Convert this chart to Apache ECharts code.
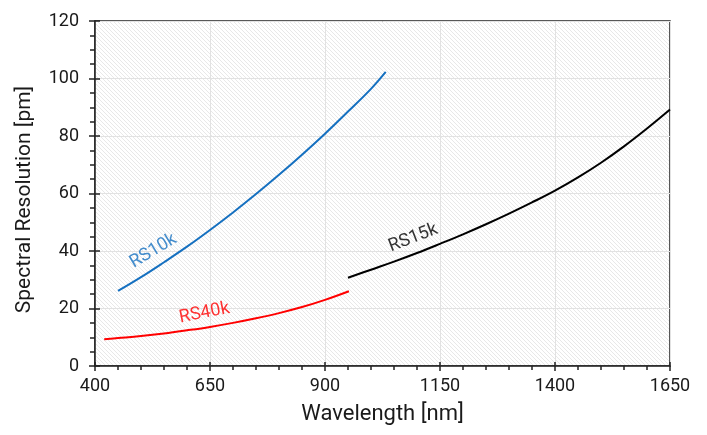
<!DOCTYPE html>
<html>
<head>
<meta charset="utf-8">
<script src="https://cdn.jsdelivr.net/npm/echarts@6/dist/echarts.min.js"></script>
<style>
html,body{margin:0;padding:0;background:#fff;}
#c{width:707px;height:435px;}
</style>
</head>
<body>
<div id="c"></div>
<script>
// ---- data ----
const xTicks = [400, 650, 900, 1150, 1400, 1650];
const yTicks = [0, 20, 40, 60, 80, 100, 120];

const rs10kX = [450, 500, 550, 600, 650, 700, 750, 800, 850, 900, 950, 1000, 1032];
const rs10kY = [26.1, 30.9, 36.1, 41.5, 47.3, 53.4, 59.8, 66.5, 73.5, 80.8, 88.5, 96.4, 102.3];

const rs40kX = [420, 450, 500, 550, 600, 650, 700, 750, 800, 850, 900, 952];
const rs40kY = [9.3, 9.7, 10.4, 11.3, 12.4, 13.6, 15.0, 16.6, 18.4, 20.5, 23.0, 26.0];

const rs15kX = [950, 1000, 1050, 1100, 1150, 1200, 1250, 1300, 1350, 1400, 1450, 1500, 1550, 1600, 1650];
const rs15kY = [30.7, 33.5, 36.3, 39.3, 42.5, 45.8, 49.3, 53.0, 56.9, 61.0, 65.6, 70.7, 76.4, 82.6, 89.2];

const seriesNames = ['RS10k', 'RS40k', 'RS15k'];
const labelX = [527, 638, 1092];
const labelY = [40.0, 18.4, 44.5];

// ---- helpers ----
const zip = (xs, ys) => xs.map((x, i) => [x, ys[i]]);

// hatch pattern for plot background
const pc = document.createElement('canvas');
pc.width = 4; pc.height = 4;
const pctx = pc.getContext('2d');
pctx.fillStyle = '#ffffff';
pctx.fillRect(0, 0, 4, 4);
pctx.strokeStyle = '#e8e8e8';
pctx.lineWidth = 1;
pctx.beginPath();
pctx.moveTo(-1, -1); pctx.lineTo(5, 5);
pctx.moveTo(-1, 3); pctx.lineTo(1, 5);
pctx.moveTo(3, -1); pctx.lineTo(5, 1);
pctx.stroke();

const colors = ['#1570c0', '#ff0000', '#000000'];
const rotations = [31, 11, 21];
const FONT = 'Roboto';
const xMin = xTicks[0], xMax = xTicks[xTicks.length - 1], xInt = xTicks[1] - xTicks[0];
const yMin = yTicks[0], yMax = yTicks[yTicks.length - 1], yInt = yTicks[1] - yTicks[0];

const chart = echarts.init(document.getElementById('c'), null, {renderer: 'canvas'});

const baseX = {
  type: 'value', min: xMin, max: xMax, interval: xInt, position: 'bottom'
};
const baseY = {
  type: 'value', min: yMin, max: yMax, interval: yInt, position: 'left'
};

const option = {
  animation: false,
  textStyle: {fontFamily: FONT},
  grid: {
    left: 95, right: 37, top: 21, bottom: 69,
    show: true,
    backgroundColor: {image: pc, repeat: 'repeat'},
    borderColor: '#222', borderWidth: 1.5
  },
  xAxis: [
    Object.assign({}, baseX, {
      name: 'Wavelength [nm]',
      nameLocation: 'middle',
      nameGap: 37,
      nameTextStyle: {fontSize: 22, color: '#1a1a1a', fontFamily: FONT},
      axisLine: {show: true, lineStyle: {color: '#222', width: 1.5}},
      axisTick: {show: true, inside: false, length: 5, lineStyle: {color: '#222', width: 1.5}},
      minorTick: {show: true, splitNumber: 5, length: 4, lineStyle: {color: '#222', width: 1.5}},
      axisLabel: {fontSize: 18, color: '#1a1a1a', margin: 11, fontFamily: FONT, formatter: v => String(v)},
      splitLine: {show: true, lineStyle: {color: '#e2e2e2', width: 1}}
    }),
    Object.assign({}, baseX, {
      axisLine: {show: false},
      axisTick: {show: true, inside: true, length: 4, lineStyle: {color: '#222', width: 1.5}},
      axisLabel: {show: false},
      splitLine: {show: false}
    })
  ],
  yAxis: [
    Object.assign({}, baseY, {
      name: 'Spectral Resolution [pm]',
      nameLocation: 'middle',
      nameGap: 60,
      nameTextStyle: {fontSize: 21, color: '#1a1a1a', fontFamily: FONT, padding: [0, 12, 0, 0]},
      axisLine: {show: true, lineStyle: {color: '#222', width: 1.5}},
      axisTick: {show: true, inside: false, length: 6, lineStyle: {color: '#222', width: 1.5}},
      minorTick: {show: true, splitNumber: 4, length: 5, lineStyle: {color: '#222', width: 1.5}},
      axisLabel: {fontSize: 18, color: '#1a1a1a', margin: 16, fontFamily: FONT, formatter: v => String(v)},
      splitLine: {show: true, lineStyle: {color: '#e2e2e2', width: 1}}
    }),
    Object.assign({}, baseY, {
      axisLine: {show: false},
      axisTick: {show: true, inside: true, length: 5, lineStyle: {color: '#222', width: 1.5}},
      axisLabel: {show: false},
      splitLine: {show: false}
    })
  ],
  series: [
    {name: seriesNames[0], type: 'line', data: zip(rs10kX, rs10kY), smooth: 0.4, showSymbol: false,
     lineStyle: {color: colors[0], width: 2}, z: 3},
    {name: seriesNames[1], type: 'line', data: zip(rs40kX, rs40kY), smooth: 0.4, showSymbol: false,
     lineStyle: {color: colors[1], width: 2}, z: 3},
    {name: seriesNames[2], type: 'line', data: zip(rs15kX, rs15kY), smooth: 0.4, showSymbol: false,
     lineStyle: {color: colors[2], width: 2}, z: 3}
  ].concat(seriesNames.map((n, i) => ({
    type: 'scatter',
    symbolSize: 0,
    silent: true,
    z: 4,
    data: [{value: [labelX[i], labelY[i]], name: n}],
    label: {
      show: true, position: 'inside', formatter: n, rotate: rotations[i],
      color: colors[i], fontSize: 18, fontFamily: FONT,
      align: 'center', verticalAlign: 'middle'
    }
  })))
};

chart.setOption(option);
</script>
</body>
</html>
